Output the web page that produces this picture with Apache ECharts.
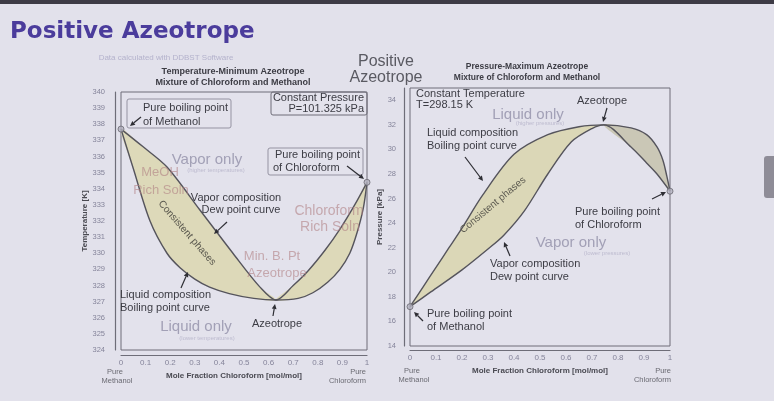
<!DOCTYPE html>
<html>
<head>
<meta charset="utf-8">
<title>Positive Azeotrope</title>
<script src="https://cdn.jsdelivr.net/npm/echarts@6/dist/echarts.min.js"></script>
<style>
  html, body { margin: 0; padding: 0; background: #e2e1eb; }
  #chart { width: 774px; height: 401px; }
</style>
</head>
<body>
<div id="chart"></div>
<script>
// T-x-y at constant pressure (101.325 kPa), x = mole fraction chloroform
const tLiquid = [[0, 337.7], [0.049, 335.3], [0.118, 332.0], [0.187, 330.0], [0.24, 329.1], [0.3, 328.4],
  [0.36, 327.9], [0.44, 327.5], [0.54, 327.2], [0.63, 327.1], [0.72, 327.2], [0.78, 327.55],
  [0.84, 328.2], [0.89, 329.0], [0.93, 330.0], [0.96, 331.3], [0.985, 332.8], [1, 334.4]]
const tVapor = [[0, 337.7], [0.09, 336.6], [0.187, 335.35], [0.32, 332.7], [0.455, 330.0], [0.565, 327.9],
  [0.63, 327.1], [0.7, 328.0], [0.76, 328.9], [0.83, 330.2], [0.89, 331.5], [0.95, 333.0], [1, 334.4]]
const tPure = [[0, 337.7], [1, 334.4]]
const tAzeoX = 0.63

// P-x-y at constant temperature (298.15 K)
const pLiquid = [[0, 17.2], [0.05, 18.8], [0.1, 20.4], [0.15, 22.0], [0.2, 23.6], [0.28, 26.3], [0.4, 29.6],
  [0.53, 31.2], [0.65, 31.85], [0.745, 32.0], [0.85, 31.75], [0.91, 31.2], [0.95, 30.2], [0.973, 29.1],
  [0.988, 27.8], [1, 26.6]]
const pVapor = [[0, 17.2], [0.08, 18.4], [0.2, 20.2], [0.3, 21.9], [0.36, 23.0], [0.44, 25.0], [0.53, 28.0],
  [0.62, 30.6], [0.7, 31.7], [0.745, 32.0], [0.85, 30.2], [0.91, 28.9], [0.95, 28.0], [1, 26.6]]
const pPure = [[0, 17.2], [1, 26.6]]
const pAzeoX = 0.745

const ff = '"Liberation Sans", Arial, sans-serif'
const dark = '#3c3c44'
const grey = '#a2a0b6'
const faint = '#bdbbcf'
const pink = 'rgba(176, 128, 132, 0.6)'
const axisColor = '#6e6d78'
const tickColor = '#85849a'

// closed outline of one two-phase region between from..to
function lens (liquid, vapor, from, to) {
  const inRange = p => p[0] >= from && p[0] <= to
  const upper = liquid.filter(inRange)
  const lower = vapor.filter(inRange).slice(1, -1).reverse()
  return upper.concat(lower)
}

function lensSeries (idx, pts, color) {
  return {
    type: 'custom',
    coordinateSystem: 'cartesian2d',
    xAxisIndex: idx,
    yAxisIndex: idx,
    silent: true,
    z: 1,
    data: [pts[0]],
    renderItem: (params, api) => ({
      type: 'polygon',
      shape: { points: pts.map(p => api.coord(p)), smooth: 0.3 },
      style: { fill: color }
    })
  }
}

function curve (idx, data) {
  return {
    type: 'line',
    xAxisIndex: idx,
    yAxisIndex: idx,
    data: data,
    smooth: 0.3,
    showSymbol: false,
    clip: false,
    z: 3,
    lineStyle: { color: '#55545c', width: 1.4 }
  }
}

function pure (idx, data) {
  return {
    type: 'scatter',
    xAxisIndex: idx,
    yAxisIndex: idx,
    data: data,
    symbolSize: 6,
    clip: false,
    z: 4,
    itemStyle: { color: '#b3b1bf', borderColor: '#6a6972', borderWidth: 1 }
  }
}

function txt (x, y, text, size, color, opts) {
  opts = opts || {}
  return {
    type: 'text',
    x: x,
    y: y,
    z: 100,
    rotation: opts.rotation || 0,
    silent: true,
    style: {
      text: text,
      fill: color,
      font: (opts.weight || 'normal') + ' ' + size + 'px ' + (opts.family || ff),
      textAlign: opts.align || 'left',
      textVerticalAlign: 'middle'
    }
  }
}

function arrow (x1, y1, x2, y2) {
  const a = Math.atan2(y2 - y1, x2 - x1)
  const h = 5, w = 2.4
  const bx = x2 - h * Math.cos(a), by = y2 - h * Math.sin(a)
  return [
    { type: 'line', z: 100, silent: true, shape: { x1: x1, y1: y1, x2: bx, y2: by }, style: { stroke: '#2e2e34', lineWidth: 1.2 } },
    {
      type: 'polygon',
      z: 100,
      silent: true,
      shape: { points: [[x2, y2], [bx + w * Math.sin(a), by - w * Math.cos(a)], [bx - w * Math.sin(a), by + w * Math.cos(a)]] },
      style: { fill: '#2e2e34' }
    }
  ]
}

function box (x, y, w, h, stroke) {
  return { type: 'rect', z: 100, silent: true, shape: { x: x, y: y, width: w, height: h, r: 2 }, style: { fill: 'none', stroke: stroke, lineWidth: 1 } }
}

const deg = Math.PI / 180

const graphics = [
  { type: 'rect', silent: true, shape: { x: 0, y: 0, width: 774, height: 4 }, style: { fill: '#3d3b45' } },
  { type: 'rect', silent: true, shape: { x: 764, y: 156, width: 14, height: 42, r: 3 }, style: { fill: '#8e8c97' } },
  txt(10, 32, 'Positive Azeotrope', 23, '#4b3c9c', { weight: 'bold', family: '"DejaVu Sans", Verdana, sans-serif' }),
  txt(166, 58, 'Data calculated with DDBST Software', 8, '#b4b2cc', { align: 'center' }),
  txt(386, 62, 'Positive', 16, '#5a5a62', { align: 'center' }),
  txt(386, 78, 'Azeotrope', 16, '#5a5a62', { align: 'center' }),

  // left chart
  txt(233, 72, 'Temperature-Minimum Azeotrope', 9, dark, { align: 'center', weight: 'bold' }),
  txt(233, 83, 'Mixture of Chloroform and Methanol', 9, dark, { align: 'center', weight: 'bold' }),
  box(271, 92, 96, 23, axisColor),
  txt(364, 98, 'Constant Pressure', 11, dark, { align: 'right' }),
  txt(364, 109, 'P=101.325 kPa', 11, dark, { align: 'right' }),
  box(127, 99, 104, 29, '#9593a2'),
  txt(143, 108, 'Pure boiling point', 11, dark),
  txt(143, 122, 'of Methanol', 11, dark),
  ...arrow(141, 117, 130, 126),
  box(268, 148, 95, 27, '#9593a2'),
  txt(275, 155, 'Pure boiling point', 11, dark),
  txt(273, 168, 'of Chloroform', 11, dark),
  ...arrow(347, 166, 364, 179),
  txt(207, 160, 'Vapor only', 15, grey, { align: 'center' }),
  txt(216, 170, '(higher temperatures)', 6, faint, { align: 'center' }),
  txt(160, 172, 'MeOH', 13, pink, { align: 'center' }),
  txt(161, 190, 'Rich Soln', 13, pink, { align: 'center' }),
  txt(236, 198, 'Vapor composition', 11, dark, { align: 'center' }),
  txt(241, 210, 'Dew point curve', 11, dark, { align: 'center' }),
  ...arrow(227, 222, 214, 234),
  txt(187, 233, 'Consistent phases', 10, '#5c5a50', { align: 'center', rotation: -49 * deg }),
  txt(329, 211, 'Chloroform', 14, pink, { align: 'center' }),
  txt(330, 227, 'Rich Soln', 14, pink, { align: 'center' }),
  txt(272, 256, 'Min. B. Pt', 13, pink, { align: 'center' }),
  txt(277, 273, 'Azeotrope', 13, pink, { align: 'center' }),
  txt(120, 295, 'Liquid composition', 11, dark),
  txt(120, 308, 'Boiling point curve', 11, dark),
  ...arrow(181, 288, 188, 272),
  txt(196, 327, 'Liquid only', 15, grey, { align: 'center' }),
  txt(207, 338, '(lower temperatures)', 6, faint, { align: 'center' }),
  txt(277, 324, 'Azeotrope', 11, dark, { align: 'center' }),
  ...arrow(273, 316, 275, 304),
  txt(115, 372, 'Pure', 7.5, '#6a6a72', { align: 'center' }),
  txt(117, 381, 'Methanol', 7.5, '#6a6a72', { align: 'center' }),
  txt(366, 372, 'Pure', 7.5, '#6a6a72', { align: 'right' }),
  txt(366, 381, 'Chloroform', 7.5, '#6a6a72', { align: 'right' }),

  // right chart
  txt(527, 67, 'Pressure-Maximum Azeotrope', 8.5, dark, { align: 'center', weight: 'bold' }),
  txt(527, 78, 'Mixture of Chloroform and Methanol', 8.5, dark, { align: 'center', weight: 'bold' }),
  txt(416, 94, 'Constant Temperature', 11, dark),
  txt(416, 105, 'T=298.15 K', 11, dark),
  txt(528, 115, 'Liquid only', 15, grey, { align: 'center' }),
  txt(540, 123, '(higher pressures)', 6, faint, { align: 'center' }),
  txt(602, 101, 'Azeotrope', 11, dark, { align: 'center' }),
  ...arrow(607, 108, 603, 122),
  txt(427, 133, 'Liquid composition', 11, dark),
  txt(427, 146, 'Boiling point curve', 11, dark),
  ...arrow(465, 157, 483, 181),
  txt(493, 205, 'Consistent phases', 10, '#5c5a50', { align: 'center', rotation: 40 * deg }),
  txt(575, 212, 'Pure boiling point', 11, dark),
  txt(575, 225, 'of Chloroform', 11, dark),
  ...arrow(652, 199, 666, 192),
  txt(571, 243, 'Vapor only', 15, grey, { align: 'center' }),
  txt(607, 253, '(lower pressures)', 6, faint, { align: 'center' }),
  txt(490, 264, 'Vapor composition', 11, dark),
  txt(490, 277, 'Dew point curve', 11, dark),
  ...arrow(510, 256, 504, 242),
  txt(427, 314, 'Pure boiling point', 11, dark),
  txt(427, 327, 'of Methanol', 11, dark),
  ...arrow(423, 321, 414, 312),
  txt(412, 371, 'Pure', 7.5, '#6a6a72', { align: 'center' }),
  txt(414, 380, 'Methanol', 7.5, '#6a6a72', { align: 'center' }),
  txt(671, 371, 'Pure', 7.5, '#6a6a72', { align: 'right' }),
  txt(671, 380, 'Chloroform', 7.5, '#6a6a72', { align: 'right' })
]

function xAxis (idx, offset, gap, pad) {
  return {
    gridIndex: idx,
    type: 'value',
    min: 0,
    max: 1,
    interval: 0.1,
    offset: offset,
    axisLine: { onZero: false, lineStyle: { color: axisColor, width: 1.2 } },
    axisTick: { show: false },
    splitLine: { show: false },
    axisLabel: { fontSize: 8, color: tickColor, margin: 4, fontFamily: ff },
    name: 'Mole Fraction Chloroform [mol/mol]',
    nameLocation: 'middle',
    nameGap: gap,
    nameTextStyle: { fontSize: 8, fontWeight: 'bold', color: '#4a4a52', fontFamily: ff, padding: pad }
  }
}

function yAxis (idx, min, max, interval, name, offset, gap, margin) {
  return {
    gridIndex: idx,
    type: 'value',
    min: min,
    max: max,
    interval: interval,
    offset: offset,
    axisLine: { show: true, onZero: false, lineStyle: { color: axisColor, width: 1.2 } },
    axisTick: { show: false },
    splitLine: { show: false },
    axisLabel: { fontSize: 7.5, color: tickColor, margin: margin, fontFamily: ff, showMaxLabel: max % interval === 0 },
    name: name,
    nameLocation: 'middle',
    nameRotate: 90,
    nameGap: gap,
    nameTextStyle: { fontSize: 8, fontWeight: 'bold', color: '#4a4a52', fontFamily: ff }
  }
}

const chart = echarts.init(document.getElementById('chart'))
chart.setOption({
  backgroundColor: '#e2e1eb',
  animation: false,
  grid: [
    { left: 121, top: 92, width: 246, height: 258, show: true, borderColor: axisColor, borderWidth: 1, backgroundColor: 'rgba(255,255,255,0.06)' },
    { left: 410, top: 88, width: 260, height: 258, show: true, borderColor: axisColor, borderWidth: 1, backgroundColor: 'rgba(255,255,255,0.06)' }
  ],
  xAxis: [xAxis(0, 5, 15, [0, 20, 0, 0]), xAxis(1, 4, 17, 0)],
  yAxis: [
    yAxis(0, 324, 340, 1, 'Temperature [K]', 6, 24, 10),
    yAxis(1, 14, 35, 2, 'Pressure [kPa]', 6, 16, 8)
  ],
  series: [
    lensSeries(0, lens(tLiquid, tVapor, 0, tAzeoX), '#ddd9b9'),
    lensSeries(0, lens(tLiquid, tVapor, tAzeoX, 1), '#ddd9b9'),
    curve(0, tLiquid),
    curve(0, tVapor),
    pure(0, tPure),
    lensSeries(1, lens(pLiquid, pVapor, 0, pAzeoX), '#dbd7b7'),
    lensSeries(1, lens(pLiquid, pVapor, pAzeoX, 1), '#cac7b6'),
    curve(1, pLiquid),
    curve(1, pVapor),
    pure(1, pPure)
  ],
  graphic: graphics
})
</script>
</body>
</html>
